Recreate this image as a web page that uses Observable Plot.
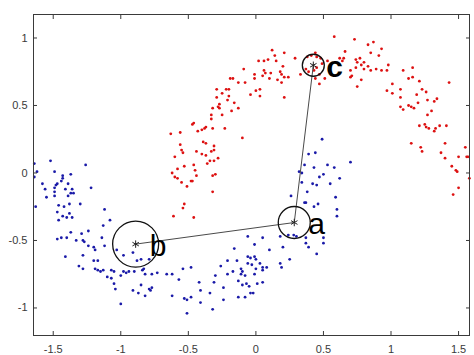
<!DOCTYPE html>
<html><head><meta charset="utf-8">
<script src="https://cdn.jsdelivr.net/npm/d3@7"></script>
<script src="https://cdn.jsdelivr.net/npm/@observablehq/plot@0.6"></script>
<style>html,body{margin:0;padding:0;background:#fff;} svg{display:block;}</style>
</head><body><div id="chart"></div>
<script>
const redPts = [
[0.12,0.91],[0.21,0.89],[0.14,0.87],[0.02,0.83],[0.06,0.83],[0.09,0.84],[0.15,0.83],[0.20,0.79],[-0.09,0.77],[-0.01,0.73],[0.06,0.76],[0.07,0.74],[0.11,0.74],[0.05,0.72],[-0.01,0.70],[0.10,0.70],[0.18,0.75],[0.19,0.73],[0.21,0.71],[0.24,0.71],[0.16,0.69],[0.19,0.67],[-0.19,0.70],[-0.17,0.70],[-0.13,0.67],[-0.08,0.67],[-0.29,0.62],[-0.25,0.59],[-0.22,0.62],[-0.20,0.62],[-0.04,0.58],[0.00,0.61],[0.03,0.62],[0.03,0.57],[0.21,0.56],[-0.29,0.56],[-0.20,0.57],[-0.21,0.54],[-0.16,0.52],[-0.27,0.51],[-0.28,0.49],[-0.32,0.48],[-0.27,0.48],[-0.13,0.48],[-0.18,0.46],[-0.33,0.43],[-0.25,0.43],[-0.33,0.40],[-0.46,0.37],[-0.47,0.36],[-0.37,0.34],[-0.38,0.33],[-0.40,0.32],[-0.43,0.31],[-0.32,0.33],[-0.23,0.33],[-0.63,0.29],[-0.56,0.30],[-0.10,0.26],[-0.39,0.23],[-0.37,0.22],[-0.56,0.21],[-0.31,0.20],[-0.33,0.16],[-0.31,0.17],[-0.44,0.16],[-0.40,0.14],[-0.37,0.13],[-0.55,0.17],[-0.54,0.15],[-0.60,0.12],[-0.28,0.11],[-0.34,0.09],[-0.31,0.09],[-0.36,0.07],[-0.53,0.05],[-0.46,0.06],[-0.58,0.03],[-0.45,0.02],[-0.62,0.00],[-0.60,-0.03],[-0.58,-0.04],[-0.44,-0.02],[-0.30,-0.01],[-0.32,-0.02],[-0.48,-0.06],[-0.47,-0.06],[-0.55,-0.07],[-0.51,-0.10],[-0.32,-0.14],[-0.53,-0.23],[-0.54,-0.26],[-0.61,-0.32],[-0.46,-0.33],
[0.58,1.01],[0.73,0.99],[0.83,0.95],[0.87,0.97],[0.93,0.92],[0.85,0.89],[0.91,0.87],[0.29,0.85],[0.44,0.89],[0.41,0.87],[0.38,0.86],[0.45,0.86],[0.48,0.85],[0.53,0.83],[0.62,0.85],[0.65,0.85],[0.64,0.83],[0.66,0.90],[0.74,0.84],[0.77,0.85],[0.75,0.82],[0.80,0.82],[0.74,0.78],[0.78,0.80],[0.83,0.79],[0.80,0.77],[0.85,0.76],[0.89,0.77],[0.93,0.76],[0.98,0.80],[0.97,0.76],[0.70,0.76],[0.71,0.72],[0.70,0.71],[0.78,0.69],[0.75,0.64],[0.97,0.61],[0.33,0.73],[0.37,0.77],[0.39,0.75],[0.43,0.76],[0.45,0.78],[0.49,0.81],[0.47,0.73],[0.51,0.70],[0.44,0.70],[0.47,0.66],
[1.09,0.76],[1.16,0.78],[1.13,0.70],[1.16,0.71],[1.21,0.68],[1.01,0.66],[1.01,0.59],[1.07,0.62],[1.23,0.62],[1.26,0.60],[1.19,0.58],[1.07,0.56],[1.27,0.54],[1.32,0.53],[1.34,0.55],[1.20,0.52],[1.07,0.49],[1.13,0.50],[1.15,0.49],[1.17,0.48],[1.09,0.47],[1.30,0.46],[1.27,0.43],[1.43,0.67],[1.21,0.35],[1.25,0.36],[1.26,0.34],[1.28,0.33],[1.32,0.31],[1.33,0.33],[1.36,0.35],[1.41,0.35],[1.15,0.22],[1.22,0.19],[1.23,0.16],[1.37,0.15],[1.40,0.22],[1.40,0.11],[1.55,0.19],[1.56,0.12],[1.57,0.12],[1.50,0.12],[1.45,0.05],[1.48,0.02],[1.49,0.01],[1.58,-0.04],[1.50,-0.11],[1.46,-0.16]
];
const bluePts = [
[-1.64,0.07],[-1.62,0.01],[-1.64,-0.03],[-1.52,0.09],[-1.49,0.01],[-1.43,-0.02],[-1.43,-0.04],[-1.44,-0.06],[-1.47,-0.08],[-1.48,-0.09],[-1.49,-0.11],[-1.58,-0.08],[-1.56,-0.12],[-1.55,-0.18],[-1.37,-0.01],[-1.26,0.06],[-1.39,-0.08],[-1.41,-0.12],[-1.36,-0.12],[-1.37,-0.15],[-1.35,-0.15],[-1.39,-0.17],[-1.49,-0.14],[-1.49,-0.17],[-1.63,-0.25],[-1.46,-0.24],[-1.42,-0.25],[-1.38,-0.23],[-1.30,-0.23],[-1.47,-0.29],[-1.43,-0.32],[-1.46,-0.35],[-1.40,-0.33],[-1.38,-0.30],[-1.36,-0.33],[-1.22,-0.11],[-1.12,-0.27],[-1.08,-0.35],[-1.37,-0.44],[-1.24,-0.43],[-1.29,-0.45],[-1.33,-0.50],[-1.28,-0.50],[-1.27,-0.51],[-1.24,-0.54],[-1.47,-0.49],[-1.44,-0.48],[-1.40,-0.48],[-1.41,-0.62],[-1.28,-0.61],[-1.31,-0.69],[-1.28,-0.71],
[-1.13,-0.39],[-1.14,-0.48],[-1.20,-0.55],[-1.19,-0.57],[-1.12,-0.54],[-1.03,-0.57],[-0.98,-0.61],[-0.91,-0.59],[-1.20,-0.65],[-1.17,-0.65],[-0.88,-0.65],[-0.85,-0.64],[-0.79,-0.64],[-1.19,-0.71],[-1.17,-0.72],[-1.15,-0.73],[-1.13,-0.72],[-1.07,-0.72],[-1.05,-0.73],[-0.98,-0.73],[-0.96,-0.74],[-0.94,-0.73],[-0.90,-0.73],[-0.83,-0.71],[-0.84,-0.72],[-1.10,-0.77],[-1.00,-0.76],[-1.07,-0.78],[-0.82,-0.75],[-0.77,-0.75],[-0.73,-0.74],[-0.66,-0.75],[-0.62,-0.75],[-0.54,-0.71],[-0.48,-0.70],[-1.05,-0.82],[-1.04,-0.86],[-0.85,-0.83],[-0.79,-0.86],[-0.77,-0.85],[-0.78,-0.87],[-0.91,-0.87],[-0.87,-0.89],[-0.57,-0.79],[-0.42,-0.81],[-0.41,-0.87],[-0.62,-0.91],[-0.82,-0.91],[-1.00,-0.97],[-0.53,-0.93],[-0.51,-0.94],[-0.48,-0.92],[-0.41,-0.96],[-0.51,-1.04],[-0.34,-0.89],[-0.32,-1.01],[-0.31,-0.81],[-0.30,-0.76],
[0.39,0.14],[0.44,0.15],[0.36,0.06],[0.32,0.01],[0.34,0.00],[0.43,0.04],[0.47,-0.03],[0.50,-0.01],[0.53,0.06],[0.58,0.04],[0.62,-0.04],[0.70,0.08],[0.34,-0.07],[0.42,-0.08],[0.45,-0.09],[0.55,-0.08],[0.38,-0.14],[0.26,-0.17],[0.36,-0.22],[0.37,-0.22],[0.46,-0.23],[0.43,-0.25],[0.59,-0.18],[0.60,-0.27],[0.60,-0.32],[0.24,-0.46],[0.28,-0.46],[0.30,-0.47],[0.18,-0.47],[0.37,-0.48],[0.37,-0.52],[0.39,-0.55],[0.50,-0.48],[0.50,-0.52],[0.45,-0.60],[0.20,-0.55],[0.25,-0.64],[0.05,-0.48],[-0.06,-0.47],[-0.01,-0.53],[0.10,-0.57],[-0.16,-0.56],[-0.21,-0.65],[-0.14,-0.65],[-0.06,-0.62],[-0.04,-0.63],[-0.01,-0.62],[0.00,-0.64],[-0.06,-0.67],[-0.03,-0.68],[0.03,-0.67],[0.05,-0.70],[0.08,-0.70],[0.00,-0.71],[0.18,-0.67],[0.19,-0.70],[-0.26,-0.69],[-0.17,-0.73],[-0.11,-0.71],[-0.10,-0.73],[-0.21,-0.75],[-0.11,-0.75],[-0.08,-0.76],[-0.01,-0.75],[0.05,-0.72],[-0.24,-0.85],[-0.13,-0.80],[-0.10,-0.83],[-0.07,-0.82],[-0.05,-0.84],[0.01,-0.82],[0.05,-0.81],[-0.04,-0.89],[-0.02,-0.89],[-0.13,-0.92],[-0.08,-0.92],[-0.24,-0.94],
[0.49,0.25]
];
const centerNames = ["a", "b", "c"];
const centerX = [0.284, -0.89, 0.425];
const centerY = [-0.367, -0.527, 0.798];
const pathOrder = ["b", "a", "c"];
const xTicks = [-1.5, -1, -0.5, 0, 0.5, 1, 1.5];
const yTicks = [-1, -0.5, 0, 0.5, 1];
const xDomain = [-1.646, 1.581];
const yDomain = [-1.204, 1.174];

const centers = centerNames.map((name, i) => ({name, x: centerX[i], y: centerY[i]}));
const byName = n => centers.filter(c => c.name === n);
const path = pathOrder.map(n => centers.find(c => c.name === n));
const fmt = d => String(d);
const px = d => d[0], py = d => d[1];

const plot = Plot.plot({
  width: 474, height: 355,
  marginLeft: 33, marginRight: 5, marginTop: 14, marginBottom: 20,
  style: {fontFamily: '"Liberation Sans", Arial, sans-serif', fontSize: "11px", color: "#3a3a3a", background: "#fff"},
  x: {domain: xDomain},
  y: {domain: yDomain},
  marks: [
    Plot.dot(redPts, {x: px, y: py, r: 1.4, fill: "#dd1111"}),
    Plot.dot(bluePts, {x: px, y: py, r: 1.4, fill: "#1a1aa8"}),
    Plot.line(path, {x: "x", y: "y", stroke: "#4a4a4a", strokeWidth: 1}),
    Plot.dot(byName("a"), {x: "x", y: "y", r: 16, stroke: "#111", strokeWidth: 1.3, fill: "none"}),
    Plot.dot(byName("b"), {x: "x", y: "y", r: 23, stroke: "#111", strokeWidth: 1.3, fill: "none"}),
    Plot.dot(byName("c"), {x: "x", y: "y", r: 11, stroke: "#111", strokeWidth: 1.3, fill: "none"}),
    Plot.dot(centers, {x: "x", y: "y", symbol: "asterisk", r: 3.5, stroke: "#222", strokeWidth: 1}),
    Plot.text(centers.filter(d => d.name !== "c"), {x: "x", y: "y", text: "name", textAnchor: "start", dx: 14, dy: 2, fontSize: 30, fill: "#000"}),
    Plot.text(byName("c"), {x: "x", y: "y", text: "name", textAnchor: "start", dx: 13, dy: 2, fontSize: 30, fontWeight: "bold", fill: "#000"}),
    Plot.frame({stroke: "#3a3a3a"}),
    Plot.axisX(xTicks, {anchor: "bottom", tickSize: -4, tickPadding: 14, tickFormat: fmt, label: null}),
    Plot.axisX(xTicks, {anchor: "top", tickSize: -4, tickFormat: () => "", label: null}),
    Plot.axisY(yTicks, {anchor: "left", tickSize: -4, tickPadding: 10, tickFormat: fmt, label: null}),
    Plot.axisY(yTicks, {anchor: "right", tickSize: -4, tickFormat: () => "", label: null})
  ]
});
document.getElementById("chart").appendChild(plot);
</script>
</body></html>
